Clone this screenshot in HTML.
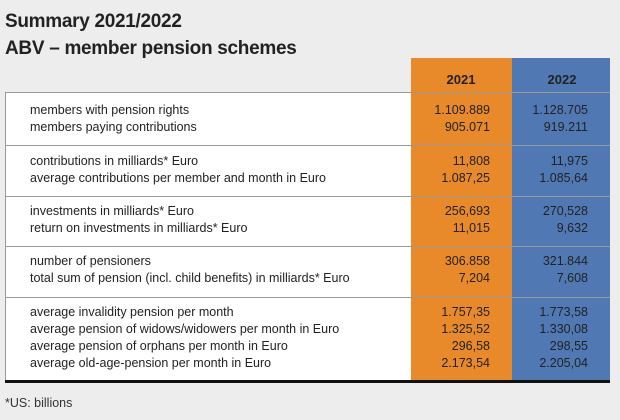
<!DOCTYPE html>
<html><head><meta charset="utf-8"><style>
body{margin:0;width:620px;height:420px;background:#ededed;position:relative;overflow:hidden;font-family:"Liberation Sans Narrow","Liberation Sans",sans-serif;}
.t{position:absolute;left:5px;font-family:"Liberation Sans",sans-serif;font-weight:bold;font-size:19px;color:#222;letter-spacing:-0.3px}
.box{position:absolute;left:5px;top:92px;width:605px;height:290px;background:#fff;border:1px solid #999;box-sizing:border-box}
.col{position:absolute;top:58px;height:324px}
.sep{position:absolute;left:5px;width:605px;height:1px;background:#999}
.r{position:absolute;font-size:12.5px;color:#222;line-height:17px}
.l{left:30px}
.a{right:130px;text-align:right}
.b{right:32px;text-align:right}
.h{position:absolute;top:72px;font-weight:bold;font-size:13px;color:#222;width:100px;text-align:center}
</style></head><body>
<div class="t" style="top:11px">Summary 2021/2022</div>
<div class="t" style="top:38px">ABV – member pension schemes</div>
<div class="box"></div>
<div class="col" style="left:411px;width:101px;background:#e8892a"></div>
<div class="col" style="left:512px;width:98px;background:#5079b4"></div>
<div class="h" style="left:411px">2021</div>
<div class="h" style="left:512px">2022</div>
<div class="sep" style="top:92px"></div>
<div class="sep" style="top:145px"></div>
<div class="sep" style="top:196px"></div>
<div class="sep" style="top:246px"></div>
<div class="sep" style="top:297px"></div>
<div style="position:absolute;left:5px;top:380px;width:605px;height:3px;background:#111"></div>
<div class="r l" style="top:102px">members with pension rights<br>members paying contributions</div>
<div class="r a" style="top:102px">1.109.889<br>905.071</div>
<div class="r b" style="top:102px">1.128.705<br>919.211</div>
<div class="r l" style="top:153px">contributions in milliards* Euro<br>average contributions per member and month in Euro</div>
<div class="r a" style="top:153px">11,808<br>1.087,25</div>
<div class="r b" style="top:153px">11,975<br>1.085,64</div>
<div class="r l" style="top:203px">investments in milliards* Euro<br>return on investments in milliards* Euro</div>
<div class="r a" style="top:203px">256,693<br>11,015</div>
<div class="r b" style="top:203px">270,528<br>9,632</div>
<div class="r l" style="top:253px">number of pensioners<br>total sum of pension (incl. child benefits) in milliards* Euro</div>
<div class="r a" style="top:253px">306.858<br>7,204</div>
<div class="r b" style="top:253px">321.844<br>7,608</div>
<div class="r l" style="top:304px">average invalidity pension per month<br>average pension of widows/widowers per month in Euro<br>average pension of orphans per month in Euro<br>average old-age-pension per month in Euro</div>
<div class="r a" style="top:304px">1.757,35<br>1.325,52<br>296,58<br>2.173,54</div>
<div class="r b" style="top:304px">1.773,58<br>1.330,08<br>298,55<br>2.205,04</div>
<div class="r" style="left:5px;top:395px;color:#333">*US: billions</div>
</body></html>
